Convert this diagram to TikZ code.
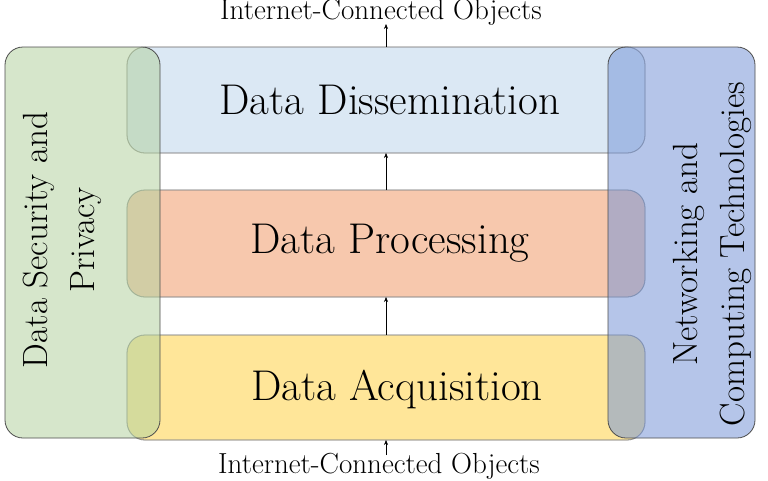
\documentclass[tikz,border=0pt]{standalone}
\usepackage{fontspec}
\usetikzlibrary{arrows.meta}
\begin{document}
\begin{tikzpicture}[x=1pt,y=-1pt,
 box/.style={rounded corners=18pt,draw=black!45,line width=0.8pt,fill opacity=0.7,draw opacity=0.8},
 side/.style={rounded corners=18pt,draw=black!70,line width=0.8pt,fill opacity=0.55},
 lab/.style={font=\fontsize{43}{48}\selectfont},
 slab/.style={font=\fontsize{35}{47}\selectfont,rotate=90,align=center},
 io/.style={font=\fontsize{29}{32}\selectfont},
 arr/.style={-{Stealth[length=5pt,width=4pt]},line width=0.5pt}]
\useasboundingbox (0,0) rectangle (768,480);
\fill[box,fill={rgb,255:red,204;green,222;blue,240}] (127,47) rectangle (645,153);
\fill[box,fill={rgb,255:red,244;green,177;blue,138}] (127,190) rectangle (645,297);
\fill[box,fill={rgb,255:red,255;green,220;blue,110}] (127,335) rectangle (645,440);
\draw[box] (127,47) rectangle (645,153);
\draw[box] (127,190) rectangle (645,297);
\draw[box] (127,335) rectangle (645,440);
\node[lab] (dd) at (390,100) {Data Dissemination};
\node[lab] (dp) at (390,243) {Data Processing};
\node[lab] (da) at (397,389) {Data Acquisition};
\draw[side,fill={rgb,255:red,180;green,210;blue,160}] (5,47) rectangle (160,438);
\draw[side,fill={rgb,255:red,120;green,150;blue,215}] (608,47) rectangle (755,438);
\node[slab] (sp) at (62,240) {Data Security and\\Privacy};
\node[slab] (nc) at (712,254) {Networking and\\Computing Technologies};
\node[io] (top) at (381,12) {Internet-Connected Objects};
\node[io] (bot) at (379,466) {Internet-Connected Objects};
\coordinate (b1) at (386,440); \coordinate (b1s) at (386,455);
\coordinate (a1) at (386,335); \coordinate (a1e) at (386,297);
\coordinate (p1) at (386,190); \coordinate (p1e) at (386,153);
\coordinate (t1) at (386,47); \coordinate (t1e) at (386,24);
\draw[arr] (b1s) -- (b1);
\draw[arr] (a1) -- (a1e);
\draw[arr] (p1) -- (p1e);
\draw[arr] (t1) -- (t1e);
\end{tikzpicture}
\end{document}
